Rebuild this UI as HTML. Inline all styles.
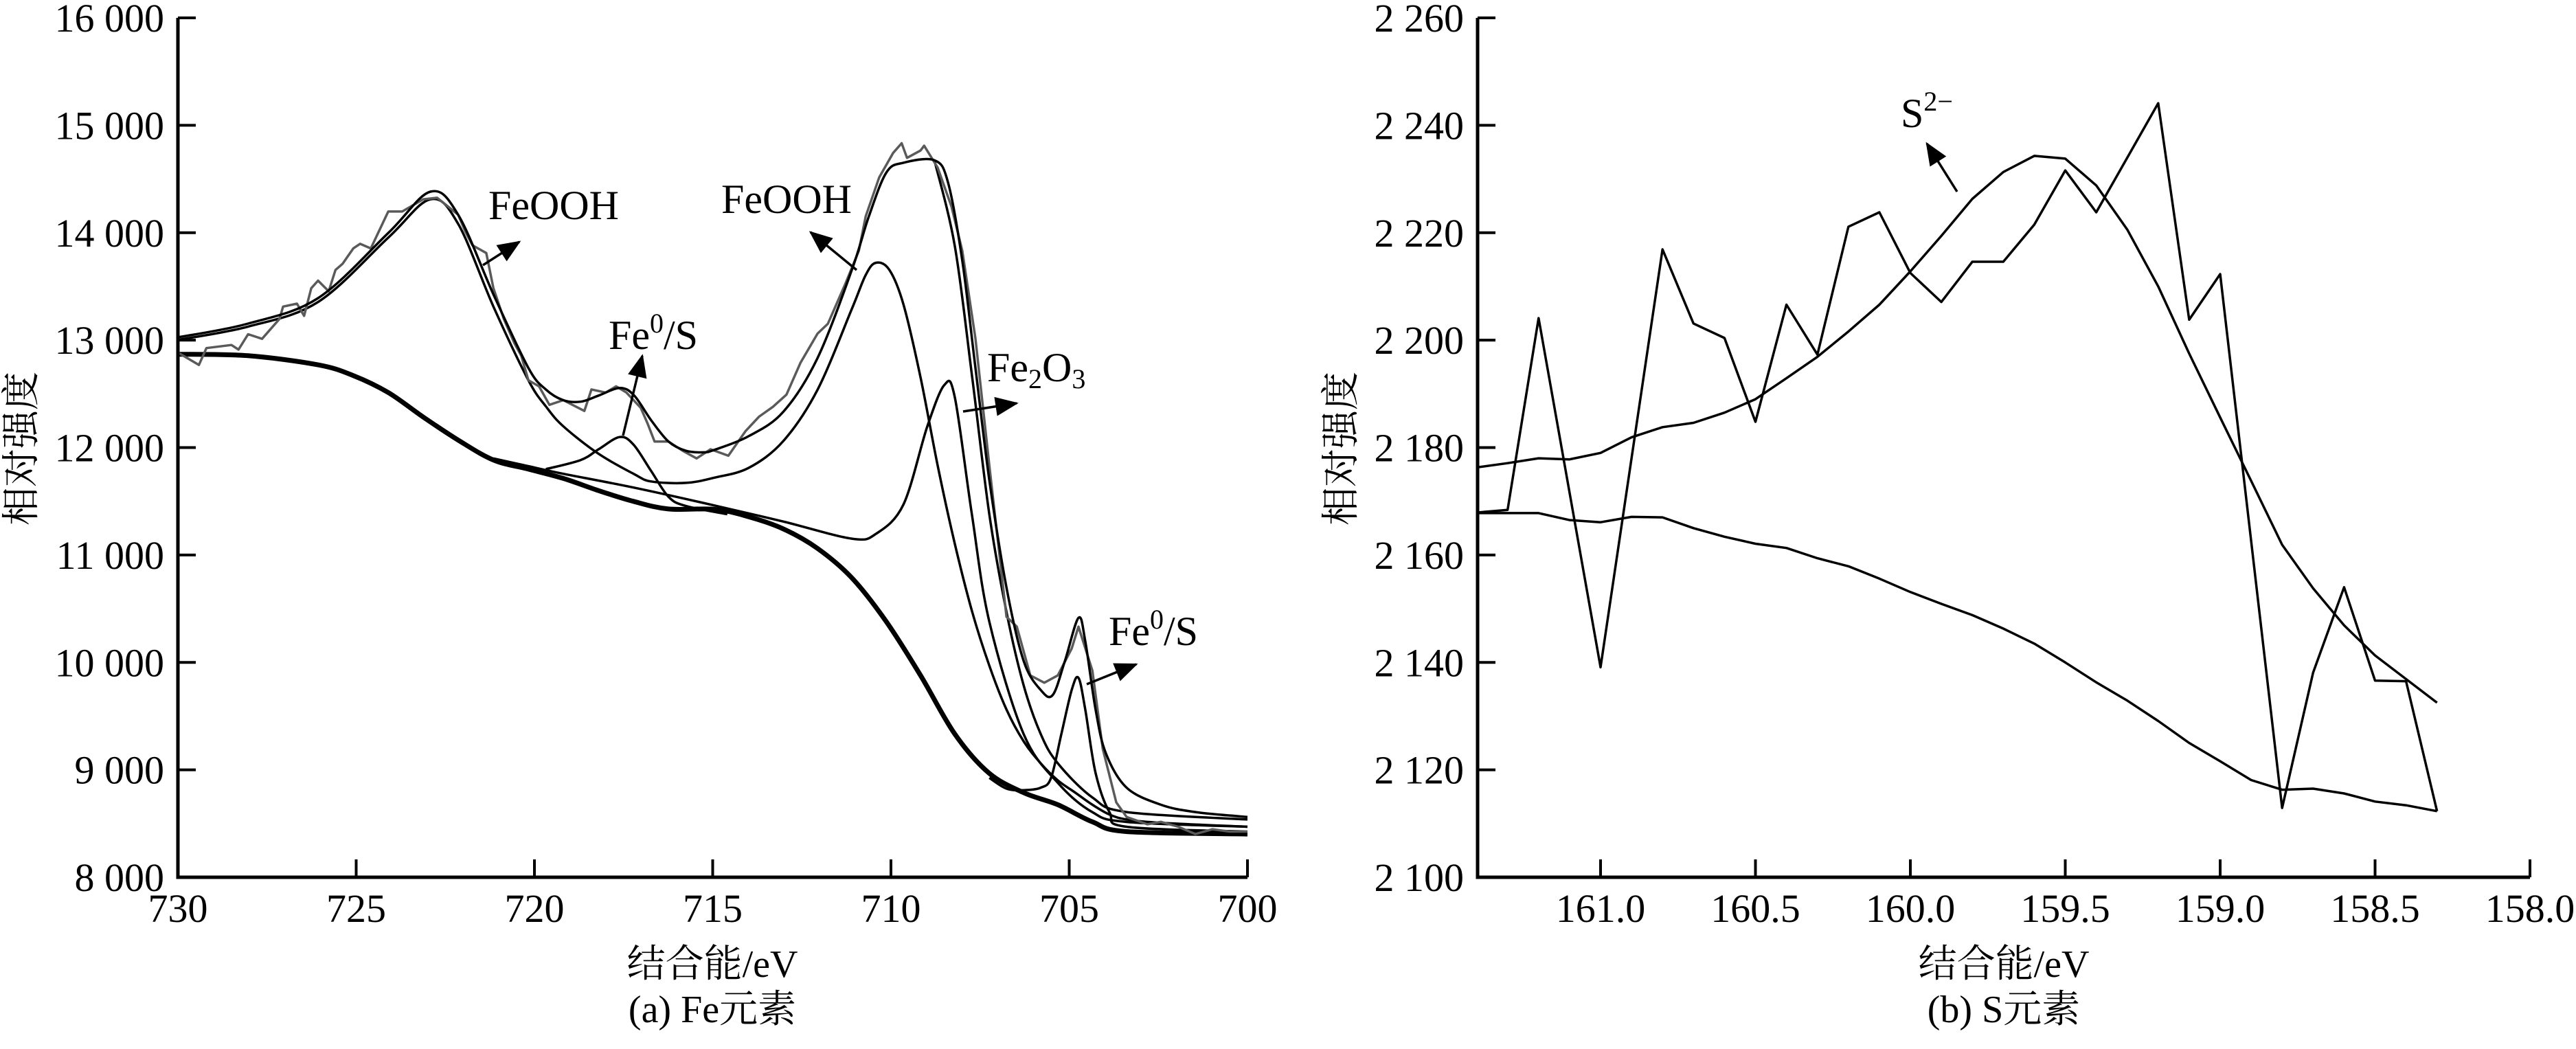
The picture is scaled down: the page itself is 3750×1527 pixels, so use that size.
<!DOCTYPE html>
<html><head><meta charset="utf-8">
<style>
html,body{margin:0;padding:0;background:#fff;}
svg{display:block;}
text{font-family:"Liberation Serif","Noto Serif CJK SC",serif;fill:#000;}
</style></head>
<body>
<svg id="fig" width="3750" height="1527" viewBox="0 0 3750 1527" xmlns="http://www.w3.org/2000/svg">
<g id="chartA"></g>
<g id="chartB"></g>
</svg>
<script>
// ===== Chart (a) Fe data =====
const feXTicks = [730, 725, 720, 715, 710, 705, 700];
const feYTicks = [8000, 9000, 10000, 11000, 12000, 13000, 14000, 15000, 16000];
const feYTickLabels = ["8 000","9 000","10 000","11 000","12 000","13 000","14 000","15 000","16 000"];

const feRawE = [730,729.41,729.2,728.5,728.3,728.03,727.64,727.15,727.05,726.66,726.46,726.26,726.07,725.77,725.58,725.38,725.08,724.89,724.59,724.1,723.71,723.12,722.73,722.14,721.94,721.74,721.35,721.15,720.86,720.56,720.37,720.17,719.87,719.58,719.19,718.6,718.4,718.0,717.71,717.42,717.02,716.83,716.63,716.24,715.84,715.45,715.06,714.56,714.08,713.7,713.31,712.93,712.54,712.06,711.77,711.29,710.9,710.71,710.33,709.94,709.7,709.55,709.17,709.07,708.69,708.3,708.0,707.63,707.24,706.76,706.47,706.09,705.7,705.32,704.93,704.74,704.35,704.06,703.68,703.39,702.81,702.43,701.94,701.46,700.98,700.5,700];
const feRawV = [12884,12769,12926,12955,12912,13055,13012,13198,13312,13340,13226,13483,13554,13455,13654,13711,13854,13897,13854,14197,14197,14311,14325,14168,14011,13883,13811,13483,13198,12970,12855,12627,12570,12398,12441,12341,12541,12512,12570,12512,12370,12227,12056,12056,11970,11899,11984,11924,12152,12288,12379,12493,12788,13061,13152,13515,13833,14151,14515,14742,14833,14697,14765,14810,14606,14242,13833,13015,11833,10424,10333,9879,9811,9879,10129,10333,9924,9197,8697,8561,8493,8516,8470,8402,8447,8425,8425];

const feTotalE = [730,728.03,726.07,724.1,722.92,722.14,721.15,720.17,719.68,719.19,718.7,718.2,717.6,717.2,716.73,716.24,715.75,715.25,714.95,713.99,713.02,712.06,711.1,710.62,710.13,709.65,708.78,708.4,708.0,707.63,707.24,706.76,706.28,705.8,705.46,705.12,704.74,704.55,704.26,703.97,703.39,702.43,701.46,700];
const feTotalV = [13026,13154,13391,13997,14382,14168,13426,12741,12541,12441,12427,12484,12555,12484,12256,12056,11970,11956,11979,12106,12333,12833,13651,14151,14560,14651,14674,14470,13742,12742,11697,10697,10015,9743,9697,10015,10415,10197,9561,9152,8834,8675,8607,8561];

const feFeoohE = [730,728.03,726.07,724.1,722.92,722.14,721.15,720.17,719.68,719.19,718.2,717.22,716.73,715.75,714.95,713.99,713.02,712.06,711.1,710.71,710.42,710.04,709.65,709.17,708.69,708.21,707.72,707.24,706.76,706.28,705.8,705.32,704.83,704.35,703.87,703.39,702.43,700];
const feFeoohV = [13003,13126,13355,13954,14311,14083,13312,12627,12384,12198,11942,11756,11685,11671,11720,11811,12061,12538,13288,13606,13720,13652,13333,12652,11833,11106,10470,9970,9561,9266,9061,8902,8788,8675,8584,8538,8507,8470];

const feSumE = [708.78,708.21,707.72,707.24,706.76,706.28,705.8,705.32,704.35,703.39,700];
const feSumV = [14674,13878,12652,11379,10470,9788,9334,9061,8743,8607,8538];

const feFe2o3E = [721.15,720.17,719.19,717.22,714.95,713.02,711.1,710.42,709.65,708.98,708.5,708.21,707.73,707.24,706.28,705.32,704.35,703.39,700];
const feFe2o3V = [11899,11827,11756,11628,11461,11311,11152,11197,11470,12197,12583,12470,11379,10379,9334,8879,8606,8515,8470];

const feFe0aE = [719.68,718.7,718.2,717.61,717.22,716.73,716.24,715.75,714.59];
const feFe0aV = [11799,11884,11984,12098,12027,11784,11542,11456,11380];

const feFe0bE = [707.24,706.76,706.28,705.8,705.51,705.22,704.93,704.74,704.55,704.26,703.87,703.39,700];
const feFe0bV = [8925,8825,8811,8834,8924,9334,9743,9856,9561,8970,8606,8470,8425];

const feBgE = [730,728.03,726.07,725.08,724.1,723.12,722.14,721.15,720.17,719.19,718.2,717.22,716.24,714.95,713.99,713.02,712.06,711.1,710.13,709.17,708.21,707.25,706.28,705.32,704.35,703.39,700];
const feBgV = [12869,12855,12770,12670,12512,12284,12070,11884,11799,11713,11599,11499,11428,11425,11356,11243,11061,10788,10379,9879,9334,8970,8788,8675,8516,8425,8402];

// ===== Chart (b) S data =====
const sXTicks = [161.0, 160.5, 160.0, 159.5, 159.0, 158.5, 158.0];
const sXTickLabels = ["161.0","160.5","160.0","159.5","159.0","158.5","158.0"];
const sYTicks = [2100, 2120, 2140, 2160, 2180, 2200, 2220, 2240, 2260];
const sYTickLabels = ["2 100","2 120","2 140","2 160","2 180","2 200","2 220","2 240","2 260"];

const sRawE = [161.4,161.3,161.2,161.0,160.8,160.7,160.6,160.5,160.4,160.3,160.2,160.1,160.0,159.9,159.8,159.7,159.6,159.5,159.4,159.2,159.1,159.0,158.8,158.7,158.6,158.5,158.4,158.3];
const sRawV = [2167.9,2168.4,2204.1,2139.1,2216.9,2203.1,2200.4,2184.8,2206.6,2197.3,2221.1,2223.8,2212.5,2207.1,2214.6,2214.6,2221.5,2231.6,2223.8,2244.1,2203.8,2212.3,2112.9,2138.1,2154.0,2136.6,2136.5,2112.3];

const sFitE = [161.4,161.3,161.2,161.1,161.0,160.9,160.8,160.7,160.6,160.5,160.4,160.3,160.2,160.1,160.0,159.9,159.8,159.7,159.6,159.5,159.4,159.3,159.2,159.1,159.0,158.9,158.8,158.7,158.6,158.5,158.4,158.3];
const sFitV = [2176.3,2177.1,2178.0,2177.8,2179.0,2181.9,2183.8,2184.6,2186.5,2189.0,2192.9,2196.9,2201.6,2206.6,2212.8,2219.4,2226.3,2231.3,2234.3,2233.8,2228.8,2220.6,2210.0,2197.5,2185.6,2173.8,2161.9,2153.8,2146.9,2141.3,2136.9,2132.5];
const sBgV = [2167.8,2167.8,2167.8,2166.5,2166.1,2167.1,2167.0,2165.0,2163.4,2162.1,2161.3,2159.4,2157.9,2155.6,2153.1,2150.9,2148.8,2146.3,2143.5,2140.0,2136.3,2132.9,2129.1,2125.0,2121.6,2118.1,2116.3,2116.5,2115.6,2114.1,2113.4,2112.3];

// ===== helpers =====
const NS = "http://www.w3.org/2000/svg";
function mk(parent, tag, attrs) {
  const el = document.createElementNS(NS, tag);
  for (const k in attrs) el.setAttribute(k, attrs[k]);
  parent.appendChild(el);
  return el;
}
function pathFrom(es, vs, sx, sy) {
  let d = "";
  for (let i = 0; i < es.length; i++) d += (i ? "L" : "M") + sx(es[i]).toFixed(1) + "," + sy(vs[i]).toFixed(1);
  return d;
}
// Catmull-Rom smoothing through the data points (rendering only)
function smoothFrom(es, vs, sx, sy) {
  const p = es.map((e, i) => [sx(e), sy(vs[i])]);
  let d = "M" + p[0][0].toFixed(1) + "," + p[0][1].toFixed(1);
  for (let i = 0; i < p.length - 1; i++) {
    const p0 = p[Math.max(0, i - 1)], p1 = p[i], p2 = p[i + 1], p3 = p[Math.min(p.length - 1, i + 2)];
    const c1x = p1[0] + (p2[0] - p0[0]) / 6, c1y = p1[1] + (p2[1] - p0[1]) / 6;
    const c2x = p2[0] - (p3[0] - p1[0]) / 6, c2y = p2[1] - (p3[1] - p1[1]) / 6;
    d += "C" + c1x.toFixed(1) + "," + c1y.toFixed(1) + " " + c2x.toFixed(1) + "," + c2y.toFixed(1) + " " + p2[0].toFixed(1) + "," + p2[1].toFixed(1);
  }
  return d;
}

// ===== Chart A =====
const gA = document.getElementById("chartA");
const aL = 259, aR = 1816, aT = 26, aB = 1277;
const axA = e => aL + (730 - e) / 30 * (aR - aL);
const ayA = v => aB - (v - 8000) / 8000 * (aB - aT);

function lineA(es, vs, name, stroke, w, smooth) {
  const d = smooth ? smoothFrom(es, vs, axA, ayA) : pathFrom(es, vs, axA, ayA);
  const p = mk(gA, "path", {d: d, fill: "none", stroke: stroke, "stroke-width": w, "stroke-linejoin": "round"});
  
  
}
lineA(feBgE, feBgV, "fe-background-line", "#000", 7, true);
lineA(feFe2o3E, feFe2o3V, "fe2o3-component-line", "#000", 3.5, true);
lineA(feFe0aE, feFe0aV, "fe0-s-component-line-717", "#000", 3.5, true);
lineA(feFe0bE, feFe0bV, "fe0-s-component-line-705", "#000", 3.5, true);
lineA(feFeoohE, feFeoohV, "feooh-component-line", "#000", 3.5, true);
lineA(feSumE, feSumV, "fe-partial-sum-line", "#000", 3.5, true);
lineA(feRawE, feRawV, "fe-raw-data-line", "#5a5a5a", 3.5, false);
lineA(feTotalE, feTotalV, "fe-total-fit-line", "#000", 3.5, true);

let ax = mk(gA, "path", {d: `M${aL},${aT} V${aB} H${aR}`, fill: "none", stroke: "#000", "stroke-width": 5});


feYTicks.forEach((v, i) => {
  const y = ayA(v);
  const t = mk(gA, "line", {x1: aL, x2: aL + 26, y1: y, y2: y, stroke: "#000", "stroke-width": 4});
  
  
  const lb = mk(gA, "text", {x: aL - 20, y: y + 20, "text-anchor": "end", "font-size": 58});
  lb.textContent = feYTickLabels[i];
  
  
});
feXTicks.forEach(e => {
  const x = axA(e);
  const t = mk(gA, "line", {x1: x, x2: x, y1: aB, y2: aB - 26, stroke: "#000", "stroke-width": 4});
  
  
  const lb = mk(gA, "text", {x: x, y: 1342, "text-anchor": "middle", "font-size": 58});
  lb.textContent = String(e);
  
  
});

// ===== Chart B =====
const gB = document.getElementById("chartB");
const bL = 2151, bR = 3683, bT = 26, bB = 1277;
const axB = e => bR - (e - 158.0) * (bR - 2330) / 3.0;
const ayB = v => bB - (v - 2100) / 160 * (bB - bT);

function lineB(es, vs, name) {
  const p = mk(gB, "path", {d: pathFrom(es, vs, axB, ayB), fill: "none", stroke: "#000", "stroke-width": 3.5, "stroke-linejoin": "round"});
  
  
}
lineB(sFitE, sBgV, "s-background-line");
lineB(sFitE, sFitV, "s-fit-line");
lineB(sRawE, sRawV, "s-raw-data-line");

ax = mk(gB, "path", {d: `M${bL},${bT} V${bB} H${bR}`, fill: "none", stroke: "#000", "stroke-width": 5});


sYTicks.forEach((v, i) => {
  const y = ayB(v);
  const t = mk(gB, "line", {x1: bL, x2: bL + 26, y1: y, y2: y, stroke: "#000", "stroke-width": 4});
  
  
  const lb = mk(gB, "text", {x: bL - 20, y: y + 20, "text-anchor": "end", "font-size": 58});
  lb.textContent = sYTickLabels[i];
  
  
});
sXTicks.forEach((e, i) => {
  const x = axB(e);
  const t = mk(gB, "line", {x1: x, x2: x, y1: bB, y2: bB - 26, stroke: "#000", "stroke-width": 4});
  
  
  const lb = mk(gB, "text", {x: x, y: 1342, "text-anchor": "middle", "font-size": 58});
  lb.textContent = sXTickLabels[i];
  
  
});
</script>

<svg width="3750" height="1527" viewBox="0 0 3750 1527" style="position:absolute;left:0;top:0" xmlns="http://www.w3.org/2000/svg">
<defs>
<marker id="arr" viewBox="0 0 12 10" refX="11" refY="5" markerWidth="36" markerHeight="28" markerUnits="userSpaceOnUse" orient="auto"><path d="M0,0 L12,5 L0,10 z" fill="#000"/></marker>
</defs>
<g font-family="Liberation Serif, Noto Serif CJK SC, serif" font-size="60" fill="#000">
<text x="711" y="319">FeOOH</text>
<line x1="703" y1="386" x2="756" y2="352" stroke="#000" stroke-width="3.5" marker-end="url(#arr)"/>
<text x="886" y="508">Fe<tspan font-size="40" dy="-24">0</tspan><tspan dy="24">/S</tspan></text>
<line x1="907" y1="634" x2="935" y2="518" stroke="#000" stroke-width="3.5" marker-end="url(#arr)"/>
<text x="1050" y="310">FeOOH</text>
<line x1="1247" y1="393" x2="1180" y2="338" stroke="#000" stroke-width="3.5" marker-end="url(#arr)"/>
<text x="1437" y="555">Fe<tspan font-size="40" dy="10">2</tspan><tspan dy="-10">O</tspan><tspan font-size="40" dy="10">3</tspan></text>
<line x1="1402" y1="599" x2="1480" y2="587" stroke="#000" stroke-width="3.5" marker-end="url(#arr)"/>
<text x="1614" y="939">Fe<tspan font-size="40" dy="-24">0</tspan><tspan dy="24">/S</tspan></text>
<line x1="1582" y1="996" x2="1654" y2="967" stroke="#000" stroke-width="3.5" marker-end="url(#arr)"/>
<text x="2767" y="185">S<tspan font-size="40" dy="-24">2−</tspan></text>
<line x1="2849" y1="279" x2="2805" y2="209" stroke="#000" stroke-width="3.5" marker-end="url(#arr)"/>
</g>
<g font-family="Liberation Serif, Noto Serif CJK SC, serif" font-size="56" fill="#000" text-anchor="middle">
<text x="1037" y="1422">结合能/eV</text>
<text x="1037" y="1488">(a) Fe元素</text>
<text x="2917" y="1422">结合能/eV</text>
<text x="2917" y="1488">(b) S元素</text>
<text transform="translate(50,653) rotate(-90)">相对强度</text>
<text transform="translate(1971,653) rotate(-90)">相对强度</text>
</g>
</svg>
</body></html>
